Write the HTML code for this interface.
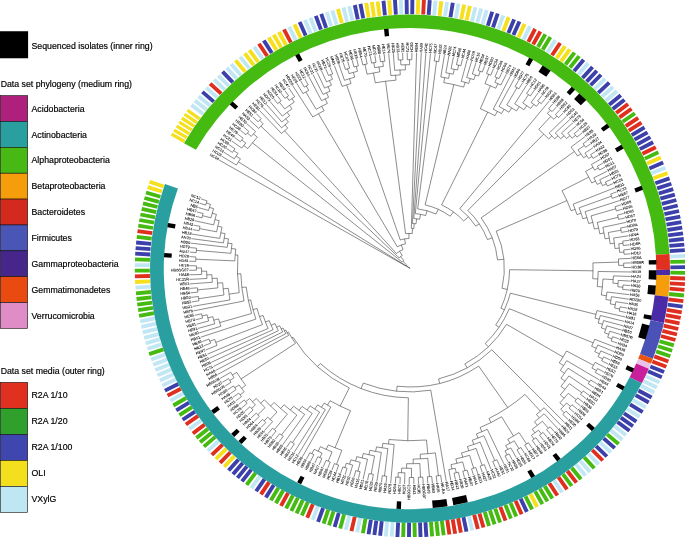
<!DOCTYPE html>
<html><head><meta charset="utf-8"><title>Phylogenetic tree</title>
<style>html,body{margin:0;padding:0;background:#fff}svg{display:block}text{font-family:"Liberation Sans",Arial,Helvetica,sans-serif}</style>
</head><body>
<svg width="685" height="537" viewBox="0 0 685 537">
<rect width="685" height="537" fill="#fff"/>
<g font-size="8.75" fill="#000" stroke="#000" stroke-width="0.18"><rect x="0" y="31.3" width="28" height="26.8" fill="#000"/><text x="31.5" y="48.8">Sequenced isolates (inner ring)</text><text x="0.7" y="87.0">Data set phylogeny (medium ring)</text><rect x="0.3" y="95.60" width="27.4" height="25.87" fill="#ad207c" stroke="#111" stroke-width="0.6"/><text x="31.5" y="111.73">Acidobacteria</text><rect x="0.3" y="121.47" width="27.4" height="25.87" fill="#2a9fa0" stroke="#111" stroke-width="0.6"/><text x="31.5" y="137.60">Actinobacteria</text><rect x="0.3" y="147.34" width="27.4" height="25.87" fill="#48b914" stroke="#111" stroke-width="0.6"/><text x="31.5" y="163.47">Alphaproteobacteria</text><rect x="0.3" y="173.21" width="27.4" height="25.87" fill="#f59d0a" stroke="#111" stroke-width="0.6"/><text x="31.5" y="189.34">Betaproteobacteria</text><rect x="0.3" y="199.08" width="27.4" height="25.87" fill="#d42a1e" stroke="#111" stroke-width="0.6"/><text x="31.5" y="215.21">Bacteroidetes</text><rect x="0.3" y="224.95" width="27.4" height="25.87" fill="#4a56b6" stroke="#111" stroke-width="0.6"/><text x="31.5" y="241.08">Firmicutes</text><rect x="0.3" y="250.82" width="27.4" height="25.87" fill="#46268a" stroke="#111" stroke-width="0.6"/><text x="31.5" y="266.95">Gammaproteobacteria</text><rect x="0.3" y="276.69" width="27.4" height="25.87" fill="#e84a10" stroke="#111" stroke-width="0.6"/><text x="31.5" y="292.82">Gemmatimonadetes</text><rect x="0.3" y="302.56" width="27.4" height="25.87" fill="#e08cc6" stroke="#111" stroke-width="0.6"/><text x="31.5" y="318.69">Verrucomicrobia</text><text x="0.7" y="373.5">Data set media (outer ring)</text><rect x="0.3" y="382.40" width="27.4" height="26.00" fill="#e0301f" stroke="#111" stroke-width="0.6"/><text x="31.5" y="398.10">R2A 1/10</text><rect x="0.3" y="408.40" width="27.4" height="26.00" fill="#2fa02c" stroke="#111" stroke-width="0.6"/><text x="31.5" y="424.10">R2A 1/20</text><rect x="0.3" y="434.40" width="27.4" height="26.00" fill="#3f46ae" stroke="#111" stroke-width="0.6"/><text x="31.5" y="450.10">R2A 1/100</text><rect x="0.3" y="460.40" width="27.4" height="26.00" fill="#f4df1f" stroke="#111" stroke-width="0.6"/><text x="31.5" y="476.10">OLI</text><rect x="0.3" y="486.40" width="27.4" height="26.00" fill="#bfe6f3" stroke="#111" stroke-width="0.6"/><text x="31.5" y="502.10">VXylG</text></g>
<g transform="translate(410.1 268.4) scale(1.0238 1)"><path d="M-161.1 -196.6L-170.5 -208M-152.7 -203.2L-161.5 -215M-148.4 -206.4L-157 -218.3M-130.5 -218.1L-138.1 -230.8M-125.9 -220.8L-133.2 -233.6M-121.2 -223.4L-128.2 -236.4M-106.9 -230.6L-113 -244M-66.7 -245.3L-70.5 -259.5M-40.5 -250.9L-42.9 -265.5M-35.3 -251.7L-37.3 -266.3M-29.9 -252.4L-31.7 -267M-19.3 -253.5L-20.4 -268.1M7.5 -254.1L7.9 -268.8M28.8 -252.6L30.5 -267.2M49.9 -249.2L52.8 -263.7M55.2 -248.1L58.4 -262.5M91 -237.3L96.3 -251.1M105.8 -231.1L111.9 -244.5M143.1 -210.1L151.4 -222.3M147.5 -207.1L156 -219M231.5 -104.9L244.9 -111M237.7 -90.1L251.4 -95.3M117.4 225.4L124.2 238.5M-171.6 187.6L-181.5 198.4M-179.3 180.2L-189.7 190.6M-253.9 12.9L-268.6 13.6M-242.3 -76.9L-256.3 -81.3M-240.6 -81.9L-254.5 -86.7" stroke="#f6df1c" stroke-width="3.80" fill="none"/>
<path d="M-202 -154.4L-213.6 -163.3M-198.7 -158.6L-210.2 -167.8M-195.3 -162.7L-206.6 -172.1M-188.3 -170.8L-199.1 -180.7M-180.9 -178.6L-191.4 -188.9M-177.1 -182.4L-187.3 -192.9M-169.3 -189.6L-179.1 -200.6M-165.2 -193.2L-174.8 -204.3M-157 -200L-166 -211.5M-144 -209.5L-152.4 -221.6M-111.7 -228.3L-118.2 -241.5M-97.1 -234.9L-102.7 -248.5M-92.1 -236.9L-97.4 -250.6M-77 -242.3L-81.4 -256.3M-71.8 -243.8L-76 -257.9M-61.5 -246.6L-65.1 -260.9M-56.3 -247.9L-59.6 -262.2M-8.6 -254.1L-9.1 -268.7M23.5 -253.1L24.8 -267.8M34.1 -251.9L36.1 -266.5M44.7 -250.2L47.3 -264.7M60.4 -246.9L63.9 -261.2M65.6 -245.6L69.4 -259.8M70.7 -244.2L74.8 -258.3M86 -239.2L91 -253M110.7 -228.8L117.1 -242.1M134.1 -215.9L141.9 -228.4M164.4 -193.9L173.9 -205.1M180.1 -179.4L190.5 -189.8M187.5 -171.7L198.3 -181.6M191.1 -167.7L202.1 -177.4M235.7 -95.1L249.4 -100.6M253.9 -11.8L268.6 -12.5M230.2 107.8L243.5 114M227.9 112.6L241.1 119.1M225.5 117.4L238.5 124.1M217.6 131.4L230.2 139M211.9 140.4L224.2 148.5M199.3 157.7L210.9 166.9M196 161.9L207.3 171.3M185.4 173.9L196.1 184M174 185.3L184.1 196M166.1 192.5L175.7 203.6M162 195.9L171.3 207.2M140.5 211.9L148.6 224.1M57.4 247.6L60.7 262M-17.1 253.6L-18 268.3M-22.4 253.2L-23.7 267.9M-48.9 249.5L-51.7 263.9M-59.3 247.2L-62.8 261.5M-90 237.7L-95.2 251.5M-146.6 207.7L-155.1 219.7M-186.8 172.5L-197.6 182.4M-203.8 151.9L-215.6 160.7M-221.4 125L-234.2 132.2M-228.8 110.8L-242 117.2M-231.1 105.9L-244.4 112M-233.3 101L-246.8 106.9M-235.3 96.1L-248.9 101.7M-237.3 91.1L-251 96.4M-239.2 86.1L-253 91.1M-242.6 76L-256.6 80.3M-244.1 70.8L-258.3 74.9M-245.6 65.7L-259.8 69.5M-246.9 60.5L-261.2 64M-248.1 55.3L-262.5 58.5M-249.2 50L-263.6 52.9M-253.5 18.2L-268.2 19.3M-254.2 -3.2L-268.9 -3.3" stroke="#c2e7f4" stroke-width="3.80" fill="none"/>
<path d="M-191.8 -166.8L-202.9 -176.5M-173.2 -186L-183.2 -196.8M-135.1 -215.3L-142.9 -227.8M-102 -232.8L-107.9 -246.3M-87.1 -238.8L-92.1 -252.6M-82 -240.6L-86.8 -254.5M-51.1 -249L-54 -263.4M-45.8 -250L-48.5 -264.5M-24.6 -253L-26 -267.6M-13.9 -253.8L-14.8 -268.5M-3.2 -254.2L-3.4 -268.9M2.1 -254.2L2.2 -268.9M18.1 -253.6L19.2 -268.2M39.4 -251.1L41.7 -265.6M75.9 -242.6L80.2 -256.6M81 -241L85.6 -254.9M96 -235.4L101.6 -249M100.9 -233.3L106.8 -246.8M160.2 -197.3L169.5 -208.7M168.4 -190.4L178.2 -201.4M172.4 -186.8L182.4 -197.6M176.3 -183.1L186.5 -193.7M183.8 -175.6L194.5 -185.7M194.5 -163.6L205.8 -173.1M197.9 -159.5L209.4 -168.7M216.5 -133.3L229 -141M219.2 -128.7L231.9 -136.1M221.9 -124L234.7 -131.2M224.4 -119.3L237.4 -126.2M233.7 -100L247.2 -105.8M239.5 -85.1L253.4 -90M241.3 -80L255.2 -84.6M242.9 -74.9L257 -79.3M244.4 -69.8L258.6 -73.8M245.8 -64.6L260.1 -68.4M247.2 -59.4L261.4 -62.9M248.4 -54.2L262.7 -57.4M249.4 -49L263.9 -51.8M250.4 -43.7L264.9 -46.2M251.3 -38.4L265.8 -40.7M252 -33.1L266.6 -35.1M252.7 -27.8L267.3 -29.4M253.2 -22.5L267.8 -23.8M253.6 -17.2L268.3 -18.2M254.2 -1.1L268.9 -1.2M251.6 36.2L266.2 38.3M234.6 98L248.1 103.6M232.4 102.9L245.9 108.8M223 122.1L235.9 129.1M220.3 126.7L233.1 134.1M214.8 135.9L227.2 143.8M208.9 144.8L221 153.2M205.8 149.2L217.7 157.8M202.6 153.5L214.3 162.4M189 170L199.9 179.8M181.7 177.8L192.2 188.1M107.9 230.2L114.1 243.5M52.1 248.8L55.1 263.2M15 253.8L15.9 268.4M9.7 254L10.2 268.7M-1 254.2L-1.1 268.9M-11.7 253.9L-12.4 268.6M-27.7 252.7L-29.3 267.3M-33 252L-34.9 266.6M-38.3 251.3L-40.6 265.8M-69.7 244.5L-73.7 258.6M-85 239.6L-89.9 253.4M-133.2 216.5L-140.9 229M-142.2 210.7L-150.4 222.9M-155.2 201.3L-164.2 213M-159.4 198L-168.6 209.5M-163.5 194.6L-173 205.9M-167.6 191.1L-177.3 202.2M-210.1 143.2L-222.2 151.4M-215.9 134.2L-228.4 141.9M-226.4 115.6L-239.5 122.2M-253.8 -13.9L-268.5 -14.7M-253.5 -19.2L-268.1 -20.3M-253 -24.5L-267.6 -25.9" stroke="#3c40aa" stroke-width="3.80" fill="none"/>
<path d="M-184.6 -174.7L-195.3 -184.8M-139.6 -212.4L-147.7 -224.7M-116.5 -225.9L-123.2 -239M12.8 -253.9L13.5 -268.6M115.5 -226.5L122.1 -239.6M120.2 -224L127.2 -236.9M138.6 -213.1L146.6 -225.4M201.3 -155.3L212.9 -164.3M204.5 -151L216.3 -159.7M210.7 -142.3L222.8 -150.5M213.6 -137.8L226 -145.8M226.9 -114.6L240 -121.2M254 9.6L268.7 10.1M253.8 14.9L268.4 15.8M253.4 20.3L268 21.4M252.3 30.9L266.9 32.7M250.8 41.5L265.3 43.9M249.9 46.8L264.3 49.5M248.8 52L263.2 55M247.7 57.3L262 60.6M246.4 62.5L260.7 66.1M245 67.6L259.2 71.6M238.5 88L252.3 93.1M236.6 93L250.3 98.4M177.9 181.6L188.2 192.1M153.6 202.6L162.5 214.3M144.9 208.8L153.3 220.9M136 214.8L143.9 227.2M103 232.4L108.9 245.8M88.1 238.4L93.2 252.2M67.7 245L71.7 259.2M62.6 246.4L66.2 260.6M46.9 249.8L49.6 264.3M41.6 250.8L44 265.3M36.3 251.6L38.4 266.1M-54.1 248.4L-57.3 262.7M-95 235.8L-100.5 249.4M-119.2 224.5L-126.1 237.5M-137.7 213.7L-145.7 226M-175.5 183.9L-185.6 194.5M-183.1 176.3L-193.7 186.5M-200.6 156.1L-212.2 165.2M-207 147.5L-219 156.1M-223.9 120.3L-236.9 127.2M-254.1 7.6L-268.8 8M-251.8 -35.2L-266.3 -37.2" stroke="#df2f1e" stroke-width="3.80" fill="none"/>
<path d="M124.9 -221.4L132.1 -234.2M129.5 -218.7L137 -231.4M151.8 -203.9L160.6 -215.7M156.1 -200.7L165.1 -212.3M207.6 -146.7L219.6 -155.1M229.3 -109.8L242.5 -116.1M254.1 -6.5L268.8 -6.8M254.2 4.2L268.9 4.5M252.9 25.6L267.5 27.1M243.6 72.8L257.6 77M242 77.9L256 82.4M240.3 83L254.2 87.8M192.5 166L203.7 175.6M170.1 188.9L179.9 199.8M157.8 199.3L166.9 210.8M149.3 205.7L157.9 217.6M131.4 217.6L139 230.2M126.8 220.3L134.2 233M122.2 222.9L129.2 235.8M112.7 227.9L119.2 241M98.1 234.5L103.7 248.1M93.1 236.5L98.5 250.2M83.1 240.2L87.9 254.1M78 241.9L82.5 255.9M72.9 243.5L77.1 257.6M31 252.3L32.8 266.9M25.7 252.9L27.2 267.5M20.4 253.4L21.5 268M4.3 254.2L4.6 268.9M-6.4 254.1L-6.7 268.8M-43.6 250.4L-46.1 264.9M-64.5 245.9L-68.3 260.1M-74.8 242.9L-79.2 257M-79.9 241.3L-84.5 255.3M-99.9 233.7L-105.7 247.2M-104.8 231.6L-110.9 245M-109.7 229.3L-116 242.6M-114.5 227L-121.1 240.1M-123.9 221.9L-131.1 234.8M-128.6 219.3L-136 232M-150.9 204.5L-159.7 216.4M-190.3 168.5L-201.4 178.2M-193.8 164.4L-205.1 173.9M-197.3 160.3L-208.7 169.6M-213 138.7L-225.3 146.7M-218.7 129.6L-231.3 137.1M-240.9 81L-254.9 85.7M-250.2 44.8L-264.7 47.4M-251.1 39.5L-265.6 41.8M-251.9 34.2L-266.5 36.2M-252.6 28.9L-267.2 30.6M-253.1 23.6L-267.7 24.9M-254.2 2.2L-268.9 2.3M-254.1 -8.5L-268.7 -9M-252.4 -29.8L-267 -31.6M-251 -40.4L-265.5 -42.8M-250.1 -45.7L-264.5 -48.4M-249 -51L-263.4 -53.9M-247.9 -56.2L-262.2 -59.5M-246.7 -61.4L-260.9 -65M-245.3 -66.6L-259.5 -70.4M-243.9 -71.7L-258 -75.9" stroke="#45ba10" stroke-width="3.80" fill="none"/>
<path d="M-220.3 -126.9L-233 -134.2M-218 -130.8L-230.6 -138.3M-215.6 -134.6L-228.1 -142.4M-213.2 -138.4L-225.6 -146.4M-210.8 -142.1L-223 -150.3M-208.2 -145.8L-220.3 -154.2M-205.6 -149.5L-217.5 -158.1" stroke="#f6df1c" stroke-width="3.19" fill="none"/>
<path d="M-215 -121.9A247.1 247.1 0 0 1 246.7 -14.1" stroke="#45ba10" stroke-width="13.40" fill="none"/>
<path d="M246.7 -14.1A247.1 247.1 0 0 1 247.1 1.5" stroke="#e0301f" stroke-width="13.40" fill="none"/>
<path d="M247.1 1.5A247.1 247.1 0 0 1 247.1 6.7" stroke="#4a2aa6" stroke-width="13.40" fill="none"/>
<path d="M247.1 6.7A247.1 247.1 0 0 1 245.6 27.5" stroke="#f59d0a" stroke-width="13.40" fill="none"/>
<path d="M245.6 27.5A247.1 247.1 0 0 1 241.4 53.1" stroke="#4a2aa6" stroke-width="13.40" fill="none"/>
<path d="M241.4 53.1A247.1 247.1 0 0 1 230.9 88" stroke="#4a52b8" stroke-width="13.40" fill="none"/>
<path d="M230.9 88A247.1 247.1 0 0 1 229 92.9" stroke="#ea5410" stroke-width="13.40" fill="none"/>
<path d="M229 92.9A247.1 247.1 0 0 1 227 97.7" stroke="#e9c3ea" stroke-width="13.40" fill="none"/>
<path d="M227 97.7A247.1 247.1 0 0 1 220.4 111.8" stroke="#c81f9c" stroke-width="13.40" fill="none"/>
<path d="M220.4 111.8A247.1 247.1 0 0 1 -233.1 -82.1" stroke="#2a9fa0" stroke-width="13.40" fill="none"/>
<path d="M-173.5 -161.3A236.9 236.9 0 0 1 -170.6 -164.4M-110.5 -209.6A236.9 236.9 0 0 1 -106.7 -211.6M-25.1 -235.6A236.9 236.9 0 0 1 -20.8 -236M114.5 -207.4A236.9 236.9 0 0 1 118.3 -205.3M127.4 -199.8A236.9 236.9 0 0 1 135.1 -194.6M155.4 -178.9A236.9 236.9 0 0 1 158.6 -176M162.7 -172.2A236.9 236.9 0 0 1 169.4 -165.7M189.3 -142.5A236.9 236.9 0 0 1 191.9 -139M203.2 -121.8A236.9 236.9 0 0 1 205.4 -118.1M222.5 -81.3A236.9 236.9 0 0 1 224 -77.3M236.8 -8.2A236.9 236.9 0 0 1 236.9 -3.9M236.9 1.8A236.9 236.9 0 0 1 236.7 11.1M236.3 16.8A236.9 236.9 0 0 1 235.5 26M232.3 46.4A236.9 236.9 0 0 1 231.5 50.6M230.2 56.1A236.9 236.9 0 0 1 226.4 69.9M215.5 98.5A236.9 236.9 0 0 1 213.7 102.4M206.4 116.3A236.9 236.9 0 0 1 204.3 120M177.6 156.8A236.9 236.9 0 0 1 174.7 160M144.8 187.5A236.9 236.9 0 0 1 141.4 190.1M120.1 204.2A236.9 236.9 0 0 1 116.4 206.4M55.5 230.3A236.9 236.9 0 0 1 41.6 233.2M36 234.2A236.9 236.9 0 0 1 21.8 235.9M-8.8 236.8A236.9 236.9 0 0 1 -13.1 236.6M-104.8 212.5A236.9 236.9 0 0 1 -108.6 210.6M-162 172.9A236.9 236.9 0 0 1 -165.1 169.9M-169.1 165.9A236.9 236.9 0 0 1 -172.1 162.8M-188.7 143.3A236.9 236.9 0 0 1 -191.3 139.8M-236.7 -10.8A236.9 236.9 0 0 1 -236.4 -15.1M-233.4 -40.5A236.9 236.9 0 0 1 -232.7 -44.7" stroke="#000" stroke-width="7.45" fill="none"/>
<path d="M-173.5 -116A208.7 208.7 0 0 1 -171 -119.6M-173.5 -116L-179.4 -120M-171 -119.6L-176.8 -123.7M-171.7 -109.6A203.7 203.7 0 0 1 -168.1 -115M-171.7 -109.6L-181.9 -116.2M-168.1 -115L-172.3 -117.8M-169.7 -103.4A198.7 198.7 0 0 1 -165.7 -109.6M-169.7 -103.4L-184.3 -112.3M-165.7 -109.6L-169.9 -112.3M-165.8 -126.7A208.7 208.7 0 0 1 -163.1 -130.2M-165.8 -126.7L-171.5 -131M-163.1 -130.2L-168.7 -134.6M-164.4 -120.3A203.7 203.7 0 0 1 -160.5 -125.4M-164.4 -120.3L-174.2 -127.4M-160.5 -125.4L-164.5 -128.5M-160.3 -133.6A208.7 208.7 0 0 1 -157.5 -136.9M-160.3 -133.6L-165.8 -138.1M-157.5 -136.9L-162.8 -141.6M-155.1 -132A203.7 203.7 0 0 1 -150.9 -136.9M-155.1 -132L-158.9 -135.3M-150.9 -136.9L-159.8 -145M-158.5 -119.8A198.7 198.7 0 0 1 -149.2 -131.2M-158.5 -119.8L-162.5 -122.8M-149.2 -131.2L-153 -134.5M-148.5 -146.6A208.7 208.7 0 0 1 -145.4 -149.7M-148.5 -146.6L-153.6 -151.6M-145.4 -149.7L-150.3 -154.8M-147.9 -140A203.7 203.7 0 0 1 -143.4 -144.6M-147.9 -140L-156.7 -148.3M-143.4 -144.6L-147 -148.2M-129.4 -164.8A209.5 209.5 0 0 1 -125.9 -167.5M-129.4 -164.8L-133.2 -169.7M-125.9 -167.5L-129.6 -172.5M-122.3 -170.1A209.5 209.5 0 0 1 -118.7 -172.6M-122.3 -170.1L-126 -175.2M-118.7 -172.6L-122.3 -177.8M-118.1 -167.9A205.3 205.3 0 0 1 -112.7 -171.6M-118.1 -167.9L-120.5 -171.4M-112.7 -171.6L-118.5 -180.4M-122.5 -159.5A201.1 201.1 0 0 1 -113.1 -166.3M-122.5 -159.5L-127.6 -166.1M-113.1 -166.3L-115.4 -169.8M-124.8 -152.3A196.9 196.9 0 0 1 -115.4 -159.6M-124.8 -152.3L-136.8 -166.9M-115.4 -159.6L-117.8 -163M-125.3 -146.4A192.7 192.7 0 0 1 -117.6 -152.7M-125.3 -146.4L-140.3 -164M-117.6 -152.7L-120.1 -156M-125.5 -140.6A188.5 188.5 0 0 1 -118.8 -146.3M-125.5 -140.6L-143.7 -161M-118.8 -146.3L-121.5 -149.6M-125.6 -134.9A184.3 184.3 0 0 1 -119.5 -140.3M-125.6 -134.9L-147.1 -157.9M-119.5 -140.3L-122.2 -143.5M-103.4 -181.3A208.7 208.7 0 0 1 -99.5 -183.4M-103.4 -181.3L-106.9 -187.5M-99.5 -183.4L-102.9 -189.7M-104.6 -174.8A203.7 203.7 0 0 1 -99 -178M-104.6 -174.8L-110.8 -185.2M-99 -178L-101.4 -182.4M-79.7 -192.9A208.7 208.7 0 0 1 -75.6 -194.5M-79.7 -192.9L-82.4 -199.4M-75.6 -194.5L-78.2 -201.1M-81.7 -186.6A203.7 203.7 0 0 1 -75.8 -189.1M-81.7 -186.6L-86.6 -197.7M-75.8 -189.1L-77.7 -193.7M-83.5 -180.3A198.7 198.7 0 0 1 -76.8 -183.2M-83.5 -180.3L-90.7 -195.8M-76.8 -183.2L-78.8 -187.9M-85.1 -174A193.7 193.7 0 0 1 -78.2 -177.2M-85.1 -174L-94.8 -193.8M-78.2 -177.2L-80.2 -181.8M-86.5 -167.7A188.7 188.7 0 0 1 -79.6 -171.1M-86.5 -167.7L-98.9 -191.8M-79.6 -171.1L-81.7 -175.6M-91.8 -159.1A183.7 183.7 0 0 1 -80.8 -165M-91.8 -159.1L-101.8 -176.4M-80.8 -165L-83 -169.5M-95 -151.4A178.7 178.7 0 0 1 -84 -157.7M-95 -151.4L-114.7 -182.8M-84 -157.7L-86.4 -162.1M-63.2 -198.9A208.7 208.7 0 0 1 -59 -200.2M-63.2 -198.9L-65.3 -205.7M-59 -200.2L-61 -207M-54.8 -201.4A208.7 208.7 0 0 1 -50.5 -202.5M-54.8 -201.4L-56.6 -208.2M-50.5 -202.5L-52.2 -209.4M-59.6 -194.8A203.7 203.7 0 0 1 -51.4 -197.1M-59.6 -194.8L-61.1 -199.6M-51.4 -197.1L-52.6 -202M-64.1 -188.1A198.7 198.7 0 0 1 -54.1 -191.2M-64.1 -188.1L-69.6 -204.3M-54.1 -191.2L-55.5 -196M-66.4 -182A193.7 193.7 0 0 1 -57.7 -184.9M-66.4 -182L-73.9 -202.7M-57.7 -184.9L-59.2 -189.7M-46.2 -203.5A208.7 208.7 0 0 1 -41.9 -204.4M-46.2 -203.5L-47.8 -210.4M-41.9 -204.4L-43.4 -211.4M-37.6 -205.3A208.7 208.7 0 0 1 -33.3 -206M-37.6 -205.3L-38.9 -212.3M-33.3 -206L-34.4 -213M-28.9 -206.7A208.7 208.7 0 0 1 -24.6 -207.2M-28.9 -206.7L-29.9 -213.7M-24.6 -207.2L-25.4 -214.3M-34.6 -200.7A203.7 203.7 0 0 1 -26.1 -202M-34.6 -200.7L-35.5 -205.7M-26.1 -202L-26.8 -207M-42 -194.2A198.7 198.7 0 0 1 -29.6 -196.5M-42 -194.2L-44.1 -204M-29.6 -196.5L-30.4 -201.4M-11.5 -208.4A208.7 208.7 0 0 1 -7.1 -208.6M-11.5 -208.4L-11.8 -215.5M-7.1 -208.6L-7.3 -215.7M-2.7 -208.7A208.7 208.7 0 0 1 1.7 -208.7M-2.7 -208.7L-2.8 -215.8M1.7 -208.7L1.8 -215.8M-9 -203.5A203.7 203.7 0 0 1 -0.5 -203.7M-9 -203.5L-9.3 -208.5M-0.5 -203.7L-0.5 -208.7M-15.1 -198.1A198.7 198.7 0 0 1 -4.6 -198.6M-15.1 -198.1L-16.4 -215.2M-4.6 -198.6L-4.7 -203.6M-18.8 -192.8A193.7 193.7 0 0 1 -9.6 -193.5M-18.8 -192.8L-20.9 -214.8M-9.6 -193.5L-9.9 -198.5M-34 -185.6A188.7 188.7 0 0 1 -13.8 -188.2M-34 -185.6L-35.8 -195.4M-13.8 -188.2L-14.2 -193.2M23.6 -207.4A208.7 208.7 0 0 1 28 -206.8M23.6 -207.4L24.5 -214.4M28 -206.8L29 -213.8M45.3 -203.7A208.7 208.7 0 0 1 49.6 -202.7M45.3 -203.7L46.8 -210.7M49.6 -202.7L51.3 -209.6M40 -199.7A203.7 203.7 0 0 1 46.3 -198.4M40 -199.7L42.4 -211.6M46.3 -198.4L47.4 -203.2M34.9 -195.6A198.7 198.7 0 0 1 42.1 -194.2M34.9 -195.6L37.9 -212.4M42.1 -194.2L43.2 -199.1M30 -191.4A193.7 193.7 0 0 1 37.6 -190M30 -191.4L33.5 -213.2M37.6 -190L38.5 -194.9M66.5 -197.8A208.7 208.7 0 0 1 70.6 -196.4M66.5 -197.8L68.7 -204.6M70.6 -196.4L73 -203.1M60.8 -194.4A203.7 203.7 0 0 1 66.9 -192.4M60.8 -194.4L64.4 -206M66.9 -192.4L68.5 -197.1M55.3 -190.9A198.7 198.7 0 0 1 62.3 -188.7M55.3 -190.9L60.1 -207.3M62.3 -188.7L63.9 -193.4M50 -187.1A193.7 193.7 0 0 1 57.3 -185M50 -187.1L55.7 -208.5M57.3 -185L58.8 -189.8M32.9 -185.8A188.7 188.7 0 0 1 52.3 -181.3M32.9 -185.8L33.8 -190.7M52.3 -181.3L53.7 -186.1M74.7 -194.9A208.7 208.7 0 0 1 78.8 -193.2M74.7 -194.9L77.3 -201.5M78.8 -193.2L81.5 -199.8M82.9 -191.5A208.7 208.7 0 0 1 86.9 -189.8M82.9 -191.5L85.7 -198.1M86.9 -189.8L89.8 -196.2M82.8 -186.1A203.7 203.7 0 0 1 88.7 -183.4M82.8 -186.1L84.9 -190.7M88.7 -183.4L94 -194.3M73.1 -184.8A198.7 198.7 0 0 1 83.7 -180.2M73.1 -184.8L76.8 -194.1M83.7 -180.2L85.8 -184.8M102.5 -181.8A208.7 208.7 0 0 1 106.3 -179.6M102.5 -181.8L106 -188M106.3 -179.6L110 -185.7M113.8 -174.9A208.7 208.7 0 0 1 117.5 -172.5M113.8 -174.9L117.7 -180.9M117.5 -172.5L121.5 -178.4M124.6 -167.4A208.7 208.7 0 0 1 128.1 -164.7M124.6 -167.4L128.9 -173.1M128.1 -164.7L132.5 -170.3M118.2 -165.9A203.7 203.7 0 0 1 123.4 -162.1M118.2 -165.9L125.2 -175.8M123.4 -162.1L126.4 -166.1M110.1 -165.4A198.7 198.7 0 0 1 117.8 -160M110.1 -165.4L115.6 -173.7M117.8 -160L120.8 -164M102.2 -164.6A193.7 193.7 0 0 1 111.1 -158.7M102.2 -164.6L113.8 -183.3M111.1 -158.7L114 -162.8M94.4 -163.4A188.7 188.7 0 0 1 103.9 -157.5M94.4 -163.4L104.4 -180.7M103.9 -157.5L106.7 -161.7M86.9 -161.9A183.7 183.7 0 0 1 96.6 -156.2M86.9 -161.9L102 -190.1M96.6 -156.2L99.2 -160.5M81.2 -159.2A178.7 178.7 0 0 1 89.3 -154.8M81.2 -159.2L98 -192.3M89.3 -154.8L91.8 -159.1M68.6 -159.6A173.7 173.7 0 0 1 82.9 -152.7M68.6 -159.6L78.4 -182.6M82.9 -152.7L85.3 -157.1M135.3 -159.7A209.3 209.3 0 0 1 138.7 -156.8M135.3 -159.7L139.5 -164.6M138.7 -156.8L143 -161.6M141.9 -153.8A209.3 209.3 0 0 1 145.1 -150.8M141.9 -153.8L146.3 -158.6M145.1 -150.8L149.6 -155.5M134.1 -154.9A204.9 204.9 0 0 1 140.5 -149.1M134.1 -154.9L137 -158.2M140.5 -149.1L143.5 -152.3M160.2 -134.7A209.3 209.3 0 0 1 163 -131.3M160.2 -134.7L165.2 -138.9M163 -131.3L168 -135.4M154 -135.2A204.9 204.9 0 0 1 158.2 -130.2M154 -135.2L162.2 -142.3M158.2 -130.2L161.6 -133M147.9 -135.4A200.5 200.5 0 0 1 152.8 -129.9M147.9 -135.4L159.2 -145.7M152.8 -129.9L156.1 -132.7M141.8 -135.4A196.1 196.1 0 0 1 147.1 -129.7M141.8 -135.4L156.1 -149M147.1 -129.7L150.4 -132.6M135.8 -135.3A191.7 191.7 0 0 1 141.2 -129.6M135.8 -135.3L152.9 -152.3M141.2 -129.6L144.5 -132.6M125.6 -139A187.3 187.3 0 0 1 135.4 -129.4M125.6 -139L137.4 -152M135.4 -129.4L138.5 -132.5M168.9 -124.7A209.9 209.9 0 0 1 171.4 -121.1M168.9 -124.7L173.6 -128.2M171.4 -121.1L176.3 -124.5M176.4 -113.8A209.9 209.9 0 0 1 178.7 -110M176.4 -113.8L181.3 -117M178.7 -110L183.8 -113.1M170.8 -115.3A206.1 206.1 0 0 1 174.4 -109.9M170.8 -115.3L178.8 -120.8M174.4 -109.9L177.6 -111.9M164 -118.5A202.3 202.3 0 0 1 169.4 -110.6M164 -118.5L170.2 -122.9M169.4 -110.6L172.6 -112.6M157.2 -121.3A198.5 198.5 0 0 1 163.6 -112.4M157.2 -121.3L170.9 -131.8M163.6 -112.4L166.8 -114.5M182.9 -102.2A209.5 209.5 0 0 1 185 -98.4M182.9 -102.2L188.4 -105.3M185 -98.4L190.5 -101.3M177.1 -103.9A205.3 205.3 0 0 1 180.2 -98.3M177.1 -103.9L186.1 -109.2M180.2 -98.3L183.9 -100.3M190.8 -86.5A209.5 209.5 0 0 1 192.6 -82.4M190.8 -86.5L196.6 -89.1M192.6 -82.4L198.4 -84.9M185.2 -88.7A205.3 205.3 0 0 1 187.9 -82.8M185.2 -88.7L194.6 -93.2M187.9 -82.8L191.7 -84.5M179.5 -90.6A201.1 201.1 0 0 1 182.7 -84M179.5 -90.6L192.6 -97.3M182.7 -84L186.5 -85.7M171.4 -97A196.9 196.9 0 0 1 177.4 -85.5M171.4 -97L178.7 -101.1M177.4 -85.5L181.2 -87.3M195.9 -74.3A209.5 209.5 0 0 1 197.4 -70.1M195.9 -74.3L201.8 -76.5M197.4 -70.1L203.4 -72.2M200.2 -61.7A209.5 209.5 0 0 1 201.4 -57.5M200.2 -61.7L206.2 -63.6M201.4 -57.5L207.5 -59.2M202.6 -53.3A209.5 209.5 0 0 1 203.7 -49M202.6 -53.3L208.7 -54.9M203.7 -49L209.8 -50.5M205.6 -40.4A209.5 209.5 0 0 1 206.4 -36M205.6 -40.4L211.8 -41.6M206.4 -36L212.6 -37.1M207.7 -27.3A209.5 209.5 0 0 1 208.2 -22.9M207.7 -27.3L214 -28.1M208.2 -22.9L214.5 -23.6M208.7 -18.5A209.5 209.5 0 0 1 209 -14.1M208.7 -18.5L215 -19.1M209 -14.1L215.3 -14.6M203.8 -24.6A205.3 205.3 0 0 1 204.7 -16M203.8 -24.6L208 -25.1M204.7 -16L208.9 -16.3M198.8 -30.4A201.1 201.1 0 0 1 200.1 -19.9M198.8 -30.4L213.3 -32.6M200.1 -19.9L204.3 -20.3M193.6 -35.9A196.9 196.9 0 0 1 195.4 -24.6M193.6 -35.9L206 -38.2M195.4 -24.6L199.5 -25.2M188.3 -41.1A192.7 192.7 0 0 1 190.4 -29.6M188.3 -41.1L210.8 -46M190.4 -29.6L194.6 -30.3M182.8 -46A188.5 188.5 0 0 1 185.3 -34.6M182.8 -46L203.2 -51.1M185.3 -34.6L189.4 -35.4M176.7 -52.5A184.3 184.3 0 0 1 180 -39.4M176.7 -52.5L200.8 -59.6M180 -39.4L184.1 -40.3M170.9 -56.7A180.1 180.1 0 0 1 174.4 -44.9M170.9 -56.7L204.8 -67.9M174.4 -44.9L178.5 -46M165.1 -60.6A175.9 175.9 0 0 1 168.7 -49.7M165.1 -60.6L196.7 -72.2M168.7 -49.7L172.8 -50.8M159.2 -64.2A171.7 171.7 0 0 1 163 -53.8M159.2 -64.2L200.1 -80.7M163 -53.8L167 -55.2M148.4 -77.7A167.5 167.5 0 0 1 157.3 -57.6M148.4 -77.7L174.5 -91.3M157.3 -57.6L161.2 -59.1M208.6 -5.3A208.7 208.7 0 0 1 208.7 -0.9M208.6 -5.3L215.7 -5.5M208.7 -0.9L215.8 -0.9M203.5 -9.5A203.7 203.7 0 0 1 203.7 -3M203.5 -9.5L215.6 -10M203.7 -3L208.7 -3.1M208 16.6A208.7 208.7 0 0 1 207.6 21M208 16.6L215.1 17.2M207.6 21L214.7 21.7M203.3 12A203.7 203.7 0 0 1 202.9 18.4M203.3 12L215.4 12.7M202.9 18.4L207.8 18.8M198.6 7.5A198.7 198.7 0 0 1 198.1 14.8M198.6 7.5L215.6 8.1M198.1 14.8L203.1 15.2M205.1 38.4A208.7 208.7 0 0 1 204.3 42.7M205.1 38.4L212.1 39.7M204.3 42.7L211.2 44.2M201 33.3A203.7 203.7 0 0 1 199.8 39.6M201 33.3L212.9 35.2M199.8 39.6L204.7 40.6M196.7 28.3A198.7 198.7 0 0 1 195.5 35.5M196.7 28.3L213.6 30.8M195.5 35.5L200.4 36.4M192.3 23.6A193.7 193.7 0 0 1 191.2 31.1M192.3 23.6L214.2 26.3M191.2 31.1L196.1 31.9M188.4 10.6A188.7 188.7 0 0 1 186.8 26.6M188.4 10.6L198.4 11.2M186.8 26.6L191.8 27.4M183.7 3.1A183.7 183.7 0 0 1 182.8 18.1M183.7 3.1L215.8 3.6M182.8 18.1L187.8 18.6M178.6 -5.5A178.7 178.7 0 0 1 178.4 10.3M178.6 -5.5L203.6 -6.3M178.4 10.3L183.4 10.6M197.8 68.3A209.3 209.3 0 0 1 196.4 72.5M197.8 68.3L204 70.4M196.4 72.5L202.5 74.7M195 62.8A204.9 204.9 0 0 1 193 68.9M195 62.8L205.4 66.1M193 68.9L197.1 70.4M192.1 57.4A200.5 200.5 0 0 1 189.9 64.4M192.1 57.4L206.8 61.8M189.9 64.4L194 65.9M189 52.2A196.1 196.1 0 0 1 186.8 59.6M189 52.2L208 57.4M186.8 59.6L191 60.9M185.8 47.1A191.7 191.7 0 0 1 183.7 54.6M185.8 47.1L209.2 53M183.7 54.6L188 55.9M182.5 42.2A187.3 187.3 0 0 1 180.6 49.7M182.5 42.2L210.3 48.6M180.6 49.7L184.8 50.9M189 88.5A208.7 208.7 0 0 1 187.1 92.4M189 88.5L195.4 91.5M187.1 92.4L193.5 95.6M186.3 82.5A203.7 203.7 0 0 1 183.6 88.3M186.3 82.5L197.3 87.3M183.6 88.3L188.1 90.5M183.3 76.6A198.7 198.7 0 0 1 180.4 83.3M183.3 76.6L199.1 83.2M180.4 83.3L184.9 85.4M180.3 70.9A193.7 193.7 0 0 1 177.3 77.9M180.3 70.9L200.8 79M177.3 77.9L181.9 79.9M183.1 100.2A208.7 208.7 0 0 1 180.9 104.1M183.1 100.2L189.3 103.6M180.9 104.1L187.1 107.6M180.7 94A203.7 203.7 0 0 1 177.6 99.7M180.7 94L191.4 99.6M177.6 99.7L182 102.2M176.4 111.6A208.7 208.7 0 0 1 174 115.3M176.4 111.6L182.4 115.4M174 115.3L179.9 119.2M169 122.5A208.7 208.7 0 0 1 166.4 126M169 122.5L174.7 126.7M166.4 126L172 130.3M163.7 129.5A208.7 208.7 0 0 1 160.9 132.9M163.7 129.5L169.2 133.9M160.9 132.9L166.4 137.4M158.1 136.3A208.7 208.7 0 0 1 155.2 139.6M158.1 136.3L163.4 140.9M155.2 139.6L160.4 144.3M152.2 142.8A208.7 208.7 0 0 1 149.1 146M152.2 142.8L157.4 147.7M149.1 146L154.2 150.9M152.9 134.6A203.7 203.7 0 0 1 147.1 140.9M152.9 134.6L156.6 137.9M147.1 140.9L150.7 144.4M154.5 124.9A198.7 198.7 0 0 1 146.3 134.4M154.5 124.9L162.3 131.2M146.3 134.4L150 137.8M155.6 115.3A193.7 193.7 0 0 1 146.7 126.5M155.6 115.3L167.7 124.3M146.7 126.5L150.5 129.7M155.1 107.5A188.7 188.7 0 0 1 147.4 117.9M155.1 107.5L177.3 123M147.4 117.9L151.3 121M154.2 99.8A183.7 183.7 0 0 1 147.3 109.8M154.2 99.8L175.2 113.4M147.3 109.8L151.3 112.8M153 92.3A178.7 178.7 0 0 1 146.7 102M153 92.3L184.8 111.5M146.7 102L150.8 104.9M152.8 82.6A173.7 173.7 0 0 1 145.7 94.5M152.8 82.6L179.2 96.9M145.7 94.5L149.9 97.2M136.7 158.4A209.2 209.2 0 0 1 133.3 161.2M136.7 158.4L141 163.4M133.3 161.2L137.5 166.3M129.9 164A209.2 209.2 0 0 1 126.4 166.7M129.9 164L134 169.2M126.4 166.7L130.4 172M122.9 169.3A209.2 209.2 0 0 1 119.3 171.9M122.9 169.3L126.7 174.7M119.3 171.9L123 177.3M125.4 161.8A204.7 204.7 0 0 1 118.5 166.9M125.4 161.8L128.1 165.4M118.5 166.9L121.1 170.6M129.2 152.9A200.2 200.2 0 0 1 119.3 160.8M129.2 152.9L135 159.8M119.3 160.8L121.9 164.4M130.9 145.4A195.7 195.7 0 0 1 121.5 153.4M130.9 145.4L144.4 160.4M121.5 153.4L124.3 156.9M130.9 139.4A191.2 191.2 0 0 1 123.4 146.1M130.9 139.4L147.7 157.3M123.4 146.1L126.3 149.5M115.6 174.3A209.2 209.2 0 0 1 111.9 176.7M115.6 174.3L119.3 179.8M111.9 176.7L115.5 182.3M108.2 179.1A209.2 209.2 0 0 1 104.4 181.3M108.2 179.1L111.6 184.7M104.4 181.3L107.7 187M96.7 185.5A209.2 209.2 0 0 1 92.7 187.5M96.7 185.5L99.7 191.4M92.7 187.5L95.7 193.4M98.4 179.5A204.7 204.7 0 0 1 92.7 182.5M98.4 179.5L103.7 189.2M92.7 182.5L94.7 186.5M101.7 172.4A200.2 200.2 0 0 1 93.4 177.1M101.7 172.4L106.3 180.2M93.4 177.1L95.5 181M106.4 164.2A195.7 195.7 0 0 1 95.4 170.9M106.4 164.2L113.8 175.6M95.4 170.9L97.6 174.8M84.8 191.3A209.2 209.2 0 0 1 80.7 193M84.8 191.3L87.4 197.3M80.7 193L83.3 199.1M72.5 196.2A209.2 209.2 0 0 1 68.4 197.7M72.5 196.2L74.8 202.4M68.4 197.7L70.5 204M64.2 199.1A209.2 209.2 0 0 1 60 200.4M64.2 199.1L66.2 205.4M60 200.4L61.9 206.7M55.7 201.6A209.2 209.2 0 0 1 51.5 202.8M55.7 201.6L57.5 208M51.5 202.8L53.1 209.2M47.2 203.8A209.2 209.2 0 0 1 42.9 204.8M47.2 203.8L48.7 210.2M42.9 204.8L44.3 211.2M44.1 199.9A204.7 204.7 0 0 1 37.8 201.2M44.1 199.9L45.1 204.3M37.8 201.2L39.8 212.1M51.3 193.5A200.2 200.2 0 0 1 40 196.2M51.3 193.5L53.6 202.2M40 196.2L40.9 200.6M58.1 186.9A195.7 195.7 0 0 1 44.7 190.5M58.1 186.9L62.1 199.8M44.7 190.5L45.7 194.9M64.4 180A191.2 191.2 0 0 1 50.2 184.5M64.4 180L70.4 197M50.2 184.5L51.4 188.8M68.4 173.7A186.7 186.7 0 0 1 56 178.1M68.4 173.7L79 200.8M56 178.1L57.3 182.4M72.1 167.3A182.2 182.2 0 0 1 60.7 171.8M72.1 167.3L82.7 192.1M60.7 171.8L62.2 176M75.4 160.9A177.7 177.7 0 0 1 64.8 165.5M75.4 160.9L91.6 195.4M64.8 165.5L66.4 169.7M89.4 148.4A173.2 173.2 0 0 1 68.4 159.1M89.4 148.4L101 167.6M68.4 159.1L70.1 163.3M112.2 126A168.7 168.7 0 0 1 77 150.1M112.2 126L127.2 142.8M77 150.1L79 154.1M29.9 207A209.1 209.1 0 0 1 25.5 207.5M29.9 207L30.8 213.6M25.5 207.5L26.3 214.2M21.1 208A209.1 209.1 0 0 1 16.8 208.4M21.1 208L21.8 214.7M16.8 208.4L17.3 215.1M12.4 208.7A209.1 209.1 0 0 1 8 208.9M12.4 208.7L12.8 215.4M8 208.9L8.2 215.6M3.6 209.1A209.1 209.1 0 0 1 -0.8 209.1M3.6 209.1L3.7 215.8M-0.8 209.1L-0.9 215.8M-9.6 208.9A209.1 209.1 0 0 1 -14 208.6M-9.6 208.9L-9.9 215.6M-14 208.6L-14.5 215.3M-5.1 204.4A204.5 204.5 0 0 1 -11.6 204.2M-5.1 204.4L-5.4 215.7M-11.6 204.2L-11.8 208.8M1.3 199.9A199.9 199.9 0 0 1 -8.2 199.7M1.3 199.9L1.4 209.1M-8.2 199.7L-8.4 204.3M9.5 195.1A195.3 195.3 0 0 1 -3.4 195.3M9.5 195.1L10.2 208.9M-3.4 195.3L-3.4 199.9M17.3 189.9A190.7 190.7 0 0 1 3 190.7M17.3 189.9L18.9 208.2M3 190.7L3.1 195.3M24.7 184.5A186.1 186.1 0 0 1 9.9 185.8M24.7 184.5L27.7 207.3M9.9 185.8L10.1 190.4M-22.8 207.9A209.1 209.1 0 0 1 -27.2 207.3M-22.8 207.9L-23.5 214.5M-27.2 207.3L-28 214M-35.9 206A209.1 209.1 0 0 1 -40.2 205.2M-35.9 206L-37 212.6M-40.2 205.2L-41.5 211.8M-48.8 203.3A209.1 209.1 0 0 1 -53.1 202.2M-48.8 203.3L-50.4 209.8M-53.1 202.2L-54.8 208.7M-61.6 199.8A209.1 209.1 0 0 1 -65.7 198.5M-61.6 199.8L-63.5 206.2M-65.7 198.5L-67.9 204.9M-56.1 196.7A204.5 204.5 0 0 1 -62.3 194.8M-56.1 196.7L-59.2 207.5M-62.3 194.8L-63.7 199.2M-48.7 193.9A199.9 199.9 0 0 1 -57.8 191.4M-48.7 193.9L-51 202.8M-57.8 191.4L-59.2 195.8M-41.6 190.8A195.3 195.3 0 0 1 -52.1 188.2M-41.6 190.8L-45.9 210.9M-52.1 188.2L-53.3 192.7M-34.7 187.5A190.7 190.7 0 0 1 -45.7 185.1M-34.7 187.5L-38 205.6M-45.7 185.1L-46.8 189.6M-28.1 184A186.1 186.1 0 0 1 -39.3 181.9M-28.1 184L-32.5 213.3M-39.3 181.9L-40.2 186.4M-21.7 180.2A181.5 181.5 0 0 1 -32.8 178.5M-21.7 180.2L-25 207.6M-32.8 178.5L-33.7 183M-15.6 176.2A176.9 176.9 0 0 1 -26.6 174.9M-15.6 176.2L-19 215M-26.6 174.9L-27.3 179.4M16 171.6A172.3 172.3 0 0 1 -20.6 171.1M16 171.6L17.3 185.3M-20.6 171.1L-21.1 175.6M-69.8 196.7A208.7 208.7 0 0 1 -73.9 195.2M-69.8 196.7L-72.1 203.4M-73.9 195.2L-76.4 201.8M-78 193.6A208.7 208.7 0 0 1 -82.1 191.9M-78 193.6L-80.6 200.2M-82.1 191.9L-84.8 198.4M-86.1 190.1A208.7 208.7 0 0 1 -90.1 188.3M-86.1 190.1L-89 196.6M-90.1 188.3L-93.1 194.7M-94 186.3A208.7 208.7 0 0 1 -97.9 184.3M-94 186.3L-97.2 192.7M-97.9 184.3L-101.2 190.6M-86 184.7A203.7 203.7 0 0 1 -93.7 180.9M-86 184.7L-88.1 189.2M-93.7 180.9L-96 185.3M-76.2 183.5A198.7 198.7 0 0 1 -87.6 178.3M-76.2 183.5L-80 192.7M-87.6 178.3L-89.8 182.8M-66.7 181.9A193.7 193.7 0 0 1 -79.9 176.5M-66.7 181.9L-71.8 195.9M-79.9 176.5L-82 181M-113.1 175.4A208.7 208.7 0 0 1 -116.7 173M-113.1 175.4L-116.9 181.4M-116.7 173L-120.7 178.9M-123.9 167.9A208.7 208.7 0 0 1 -127.4 165.3M-123.9 167.9L-128.1 173.6M-127.4 165.3L-131.8 170.9M-130.9 162.6A208.7 208.7 0 0 1 -134.3 159.8M-130.9 162.6L-135.3 168.1M-134.3 159.8L-138.8 165.2M-140.9 154A208.7 208.7 0 0 1 -144.1 151M-140.9 154L-145.7 159.2M-144.1 151L-149 156.1M-134.3 153.2A203.7 203.7 0 0 1 -139.1 148.8M-134.3 153.2L-142.3 162.3M-139.1 148.8L-142.5 152.5M-147.2 147.9A208.7 208.7 0 0 1 -150.3 144.8M-147.2 147.9L-152.2 152.9M-150.3 144.8L-155.4 149.7M-153.3 141.6A208.7 208.7 0 0 1 -156.3 138.3M-153.3 141.6L-158.5 146.4M-156.3 138.3L-161.6 143M-159.2 135A208.7 208.7 0 0 1 -162 131.6M-159.2 135L-164.6 139.6M-162 131.6L-167.5 136.1M-151.1 136.6A203.7 203.7 0 0 1 -156.7 130.1M-151.1 136.6L-154.8 140M-156.7 130.1L-160.6 133.3M-141.7 139.3A198.7 198.7 0 0 1 -150.2 130.1M-141.7 139.3L-148.8 146.4M-150.2 130.1L-153.9 133.4M-130 143.6A193.7 193.7 0 0 1 -142.3 131.4M-130 143.6L-136.7 151M-142.3 131.4L-146 134.8M-119.9 145.7A188.7 188.7 0 0 1 -132.8 134.1M-119.9 145.7L-132.6 161.2M-132.8 134.1L-136.3 137.6M-110.6 146.7A183.7 183.7 0 0 1 -123.1 136.4M-110.6 146.7L-125.7 166.6M-123.1 136.4L-126.5 140.1M-103 146A178.7 178.7 0 0 1 -113.8 137.8M-103 146L-124.4 176.3M-113.8 137.8L-117 141.6M-95.6 145A173.7 173.7 0 0 1 -105.5 138M-95.6 145L-114.9 174.2M-105.5 138L-108.5 142M-88.4 143.7A168.7 168.7 0 0 1 -97.7 137.5M-88.4 143.7L-113.1 183.8M-97.7 137.5L-100.6 141.6M-82.8 141.2A163.7 163.7 0 0 1 -90.3 136.5M-82.8 141.2L-109.2 186.1M-90.3 136.5L-93.1 140.7M-77.4 138.6A158.7 158.7 0 0 1 -84 134.7M-77.4 138.6L-105.2 188.4M-84 134.7L-86.6 138.9M-58.2 142.3A153.7 153.7 0 0 1 -78.2 132.3M-58.2 142.3L-73.3 179.3M-78.2 132.3L-80.7 136.7M-164.7 128.2A208.7 208.7 0 0 1 -167.4 124.7M-164.7 128.2L-170.3 132.5M-167.4 124.7L-173 128.9M-169.9 121.1A208.7 208.7 0 0 1 -172.5 117.5M-169.9 121.1L-175.7 125.3M-172.5 117.5L-178.3 121.5M-162.1 123.4A203.7 203.7 0 0 1 -167.1 116.5M-162.1 123.4L-166 126.4M-167.1 116.5L-171.2 119.3M-174.9 113.9A208.7 208.7 0 0 1 -177.3 110.2M-174.9 113.9L-180.8 117.8M-177.3 110.2L-183.3 113.9M-171.9 109.3A203.7 203.7 0 0 1 -175.2 103.9M-171.9 109.3L-176.1 112M-175.2 103.9L-185.6 110M-160.6 117A198.7 198.7 0 0 1 -169.3 104M-160.6 117L-164.6 120M-169.3 104L-173.6 106.6M-194.8 74.8A208.7 208.7 0 0 1 -196.4 70.7M-194.8 74.8L-201.5 77.4M-196.4 70.7L-203 73.1M-188.6 77A203.7 203.7 0 0 1 -190.9 71M-188.6 77L-199.8 81.6M-190.9 71L-195.6 72.8M-202.7 49.7A208.7 208.7 0 0 1 -203.7 45.4M-202.7 49.7L-209.6 51.4M-203.7 45.4L-210.6 46.9M-196.8 52.6A203.7 203.7 0 0 1 -198.3 46.4M-196.8 52.6L-208.5 55.8M-198.3 46.4L-203.2 47.5M-190.8 55.4A198.7 198.7 0 0 1 -192.7 48.3M-190.8 55.4L-207.3 60.1M-192.7 48.3L-197.6 49.5M-184.9 57.9A193.7 193.7 0 0 1 -187 50.5M-184.9 57.9L-205.9 64.5M-187 50.5L-191.8 51.8M-206.2 32.4A208.7 208.7 0 0 1 -206.8 28.1M-206.2 32.4L-213.2 33.5M-206.8 28.1L-213.8 29M-207.3 23.7A208.7 208.7 0 0 1 -207.8 19.4M-207.3 23.7L-214.4 24.5M-207.8 19.4L-214.9 20M-208.7 1.8A208.7 208.7 0 0 1 -208.7 -2.6M-208.7 1.8L-215.8 1.9M-208.7 -2.6L-215.8 -2.7M-203.6 6.1A203.7 203.7 0 0 1 -203.7 -0.4M-203.6 6.1L-215.7 6.4M-203.7 -0.4L-208.7 -0.4M-198.4 10.1A198.7 198.7 0 0 1 -198.7 2.8M-198.4 10.1L-215.5 11M-198.7 2.8L-203.7 2.8M-193.2 13.9A193.7 193.7 0 0 1 -193.6 6.3M-193.2 13.9L-215.2 15.5M-193.6 6.3L-198.6 6.4M-187.7 19.5A188.7 188.7 0 0 1 -188.4 9.8M-187.7 19.5L-207.6 21.5M-188.4 9.8L-193.4 10.1M-181.8 26.6A183.7 183.7 0 0 1 -183.1 14.3M-181.8 26.6L-206.5 30.3M-183.1 14.3L-188.1 14.7M-175.9 31.5A178.7 178.7 0 0 1 -177.6 19.9M-175.9 31.5L-212.4 38M-177.6 19.9L-182.6 20.5M-209.4 -7A209.5 209.5 0 0 1 -209.2 -11.4M-209.4 -7L-215.7 -7.2M-209.2 -11.4L-215.5 -11.8M-208.9 -15.8A209.5 209.5 0 0 1 -208.5 -20.2M-208.9 -15.8L-215.2 -16.3M-208.5 -20.2L-214.8 -20.8M-206.1 -37.7A209.5 209.5 0 0 1 -205.2 -42M-206.1 -37.7L-212.3 -38.8M-205.2 -42L-211.4 -43.3M-203.3 -50.6A209.5 209.5 0 0 1 -202.2 -54.9M-203.3 -50.6L-209.4 -52.1M-202.2 -54.9L-208.3 -56.5M-199.7 -63.3A209.5 209.5 0 0 1 -198.3 -67.5M-199.7 -63.3L-205.7 -65.3M-198.3 -67.5L-204.3 -69.6M-196.9 -57.9A205.2 205.2 0 0 1 -195 -64.1M-196.9 -57.9L-207 -60.9M-195 -64.1L-199 -65.4M-194.5 -50.6A201 201 0 0 1 -191.9 -59.8M-194.5 -50.6L-202.7 -52.7M-191.9 -59.8L-196 -61M-191.9 -43.5A196.8 196.8 0 0 1 -189.2 -54M-191.9 -43.5L-210.5 -47.7M-189.2 -54L-193.3 -55.2M-189 -36.6A192.5 192.5 0 0 1 -186.5 -47.7M-189 -36.6L-205.6 -39.8M-186.5 -47.7L-190.6 -48.8M-185.9 -30A188.3 188.3 0 0 1 -183.7 -41.3M-185.9 -30L-213.1 -34.3M-183.7 -41.3L-187.9 -42.2M-182.3 -25.5A184.1 184.1 0 0 1 -180.8 -34.8M-182.3 -25.5L-213.7 -29.8M-180.8 -34.8L-184.9 -35.6M-178.6 -21.1A179.9 179.9 0 0 1 -177.4 -29.5M-178.6 -21.1L-214.3 -25.3M-177.4 -29.5L-181.6 -30.2M-175 -15.1A175.6 175.6 0 0 1 -173.9 -24.7M-175 -15.1L-208.7 -18M-173.9 -24.7L-178.1 -25.3M-171.2 -7.5A171.4 171.4 0 0 1 -170.3 -19.4M-171.2 -7.5L-209.3 -9.2M-170.3 -19.4L-174.5 -19.9M-166.9 24.3A168.7 168.7 0 0 1 -168.2 -13.3M-166.9 24.3L-176.8 25.7M-168.2 -13.3L-170.9 -13.5M-162.2 32.6A165.4 165.4 0 0 1 -165.3 5.4M-162.2 32.6L-211.6 42.5M-165.3 5.4L-168.6 5.5M-154.8 45.1A161.2 161.2 0 0 1 -160.1 18.6M-154.8 45.1L-186 54.2M-160.1 18.6L-164.3 19.1M-150.6 50.7A158.9 158.9 0 0 1 -155.7 31.5M-150.6 50.7L-204.5 68.8M-155.7 31.5L-158 32M-144.2 56.2A154.8 154.8 0 0 1 -149.5 40.1M-144.2 56.2L-189.8 74M-149.5 40.1L-153.5 41.2M-138.7 60.1A151.1 151.1 0 0 1 -143.6 47.1M-138.7 60.1L-198 85.8M-143.6 47.1L-147.1 48.2M-133.8 61.3A147.2 147.2 0 0 1 -137.6 52.2M-133.8 61.3L-196.2 89.9M-137.6 52.2L-141.3 53.6M-128.7 62.3A143 143 0 0 1 -131.9 55.2M-128.7 62.3L-194.2 94M-131.9 55.2L-135.8 56.8M-124.4 63.5A139.7 139.7 0 0 1 -127.4 57.4M-124.4 63.5L-192.2 98.1M-127.4 57.4L-130.4 58.8M-121.3 65.2A137.7 137.7 0 0 1 -124.1 59.6M-121.3 65.2L-190.1 102.1M-124.1 59.6L-125.9 60.5M-118.6 67A136.2 136.2 0 0 1 -121.4 61.7M-118.6 67L-187.9 106.1M-121.4 61.7L-122.7 62.4M-112 75A134.8 134.8 0 0 1 -118.8 63.7M-112 75L-165.1 110.6M-118.8 63.7L-120 64.4M-59.4 119.6A133.5 133.5 0 0 1 -114.4 68.8M-59.4 119.6L-68.4 137.7M-114.4 68.8L-115.5 69.4M-1.7 129.4A129.4 129.4 0 0 1 -87.7 95.1M-1.7 129.4L-2.3 172.3M-87.7 95.1L-90.5 98.1M20.2 121.8A123.5 123.5 0 0 1 -45.7 114.7M20.2 121.8L35.3 212.9M-45.7 114.7L-47.9 120.2M67 97.7A118.5 118.5 0 0 1 -12.7 117.8M67 97.7L95.4 139.2M-12.7 117.8L-13.2 122.8M79.8 81.4A114 114 0 0 1 27.8 110.5M79.8 81.4L151 154.2M27.8 110.5L28.9 114.9M94.2 55.9A109.5 109.5 0 0 1 53.5 95.5M94.2 55.9L149.4 88.6M53.5 95.5L55.7 99.4M96.9 40.3A105 105 0 0 1 73.3 75.2M96.9 40.3L178.8 74.4M73.3 75.2L76.5 78.4M97.9 24.8A101 101 0 0 1 83.6 56.7M97.9 24.8L181.6 46M83.6 56.7L86.9 58.9M97.2 1.3A97.2 97.2 0 0 1 88.7 39.8M97.2 1.3L178.7 2.4M88.7 39.8L92.1 41.4M84.1 -37.2A92 92 0 0 1 89.8 19.9M84.1 -37.2L153.2 -67.8M89.8 19.9L94.9 21M69.4 -50.5A85.8 85.8 0 0 1 85.4 -8.5M69.4 -50.5L160.5 -116.9M85.4 -8.5L91.5 -9.1M56.4 -58A80.9 80.9 0 0 1 75.6 -28.8M56.4 -58L130.5 -134.3M75.6 -28.8L80.2 -30.6M48.5 -59.7A76.9 76.9 0 0 1 64.2 -42.3M48.5 -59.7L136 -167.5M64.2 -42.3L67.6 -44.5M30.8 -63.5A70.6 70.6 0 0 1 52.4 -47.4M30.8 -63.5L75.8 -156.3M52.4 -47.4L57 -51.6M14.7 -63.5A65.2 65.2 0 0 1 39.1 -52.2M14.7 -63.5L42.7 -183.8M39.1 -52.2L42.4 -56.5M7.4 -59.5A60 60 0 0 1 25.3 -54.4M7.4 -59.5L25.8 -207.1M25.3 -54.4L27.5 -59.1M5.1 -54.8A55 55 0 0 1 15.2 -52.9M5.1 -54.8L19.9 -214.9M15.2 -52.9L16.6 -57.7M3.6 -49.9A50 50 0 0 1 9.3 -49.1M3.6 -49.9L15.4 -215.2M9.3 -49.1L10.2 -54M2.3 -44.9A45 45 0 0 1 5.8 -44.6M2.3 -44.9L10.9 -215.5M5.8 -44.6L6.4 -49.6M1.2 -40A40 40 0 0 1 3.6 -39.8M1.2 -40L6.3 -215.7M3.6 -39.8L4 -44.8M-4.4 -34.7A35 35 0 0 1 2.1 -34.9M-4.4 -34.7L-24 -187.2M2.1 -34.9L2.4 -39.9M-9.6 -28.4A30 30 0 0 1 -1 -30M-9.6 -28.4L-62 -183.5M-1 -30L-1.2 -35M-12.5 -21.6A25 25 0 0 1 -4.5 -24.6M-12.5 -21.6L-89.5 -154.6M-4.5 -24.6L-5.4 -29.5M-13.3 -14.9A20 20 0 0 1 -6.9 -18.8M-13.3 -14.9L-122.6 -137.6M-6.9 -18.8L-8.6 -23.5M-10.7 -10.5A15 15 0 0 1 -7.7 -12.9M-10.7 -10.5L-145.7 -142.3M-7.7 -12.9L-10.3 -17.2M-7.7 -6.3A10 10 0 0 1 -6.2 -7.8M-7.7 -6.3L-154 -125.6M-6.2 -7.8L-9.3 -11.8M-4.2 -2.7A5 5 0 0 1 -3.5 -3.6M-4.2 -2.7L-167.7 -106.5M-3.5 -3.6L-7 -7.1M0 0L-186.6 -108.4M0 0L-3.9 -3.1" stroke="#1a1a1a" stroke-width="0.5" fill="none"/>
<g font-size="3.8" fill="#000" stroke="#000" stroke-width="0.06" dominant-baseline="central"><text transform="translate(-187 -108.7) rotate(30.2)" text-anchor="end">HC04</text><text transform="translate(-184.7 -112.6) rotate(31.4)" text-anchor="end">HC03</text><text transform="translate(-182.3 -116.4) rotate(32.6)" text-anchor="end">HC24</text><text transform="translate(-179.8 -120.2) rotate(33.8)" text-anchor="end">HC20</text><text transform="translate(-177.2 -124) rotate(35)" text-anchor="end">HC06</text><text transform="translate(-174.6 -127.7) rotate(36.2)" text-anchor="end">HC21</text><text transform="translate(-171.9 -131.4) rotate(37.4)" text-anchor="end">HE49</text><text transform="translate(-169 -134.9) rotate(38.6)" text-anchor="end">HE79</text><text transform="translate(-166.2 -138.5) rotate(39.8)" text-anchor="end">HC08</text><text transform="translate(-163.2 -141.9) rotate(41)" text-anchor="end">HE80</text><text transform="translate(-160.2 -145.3) rotate(42.2)" text-anchor="end">HE70</text><text transform="translate(-157.1 -148.7) rotate(43.4)" text-anchor="end">HA52</text><text transform="translate(-153.9 -152) rotate(44.6)" text-anchor="end">HE51</text><text transform="translate(-150.7 -155.2) rotate(45.8)" text-anchor="end">HC80</text><text transform="translate(-147.4 -158.3) rotate(47)" text-anchor="end">HE81</text><text transform="translate(-144 -161.4) rotate(48.2)" text-anchor="end">HE75</text><text transform="translate(-140.6 -164.4) rotate(49.5)" text-anchor="end">HE12</text><text transform="translate(-137.1 -167.3) rotate(50.7)" text-anchor="end">HD73</text><text transform="translate(-133.6 -170.1) rotate(51.9)" text-anchor="end">HD20</text><text transform="translate(-129.9 -172.9) rotate(53.1)" text-anchor="end">HC84</text><text transform="translate(-126.3 -175.6) rotate(54.3)" text-anchor="end">HC10</text><text transform="translate(-122.6 -178.2) rotate(55.5)" text-anchor="end">HB69</text><text transform="translate(-118.8 -180.8) rotate(56.7)" text-anchor="end">HC47</text><text transform="translate(-114.9 -183.2) rotate(57.9)" text-anchor="end">HD509</text><text transform="translate(-111.1 -185.6) rotate(59.1)" text-anchor="end">HE08</text><text transform="translate(-107.1 -187.9) rotate(60.3)" text-anchor="end">HE28</text><text transform="translate(-103.1 -190.1) rotate(61.5)" text-anchor="end">HC12</text><text transform="translate(-99.1 -192.3) rotate(62.7)" text-anchor="end">HC54</text><text transform="translate(-95 -194.3) rotate(63.9)" text-anchor="end">HC31</text><text transform="translate(-90.9 -196.3) rotate(65.1)" text-anchor="end">HC71</text><text transform="translate(-86.8 -198.1) rotate(66.3)" text-anchor="end">HC08</text><text transform="translate(-82.6 -199.9) rotate(67.6)" text-anchor="end">HB73</text><text transform="translate(-78.4 -201.6) rotate(68.8)" text-anchor="end">HC29</text><text transform="translate(-74.1 -203.2) rotate(70)" text-anchor="end">HA81</text><text transform="translate(-69.8 -204.7) rotate(71.2)" text-anchor="end">HE08</text><text transform="translate(-65.5 -206.1) rotate(72.4)" text-anchor="end">HE75</text><text transform="translate(-61.1 -207.5) rotate(73.6)" text-anchor="end">HC07</text><text transform="translate(-56.7 -208.7) rotate(74.8)" text-anchor="end">HE06</text><text transform="translate(-52.3 -209.9) rotate(76)" text-anchor="end">HE18</text><text transform="translate(-47.9 -210.9) rotate(77.2)" text-anchor="end">HD54</text><text transform="translate(-43.5 -211.9) rotate(78.4)" text-anchor="end">HE70</text><text transform="translate(-39 -212.8) rotate(79.6)" text-anchor="end">HC74</text><text transform="translate(-34.5 -213.5) rotate(80.8)" text-anchor="end">HD72</text><text transform="translate(-30 -214.2) rotate(82)" text-anchor="end">HB88</text><text transform="translate(-25.5 -214.8) rotate(83.2)" text-anchor="end">HE14</text><text transform="translate(-21 -215.3) rotate(84.4)" text-anchor="end">HE74</text><text transform="translate(-16.4 -215.7) rotate(85.6)" text-anchor="end">HA25</text><text transform="translate(-11.9 -216) rotate(86.9)" text-anchor="end">HD13</text><text transform="translate(-7.3 -216.2) rotate(88.1)" text-anchor="end">HE92</text><text transform="translate(-2.8 -216.3) rotate(89.3)" text-anchor="end">HC73</text><text transform="translate(1.8 -216.3) rotate(270.5)">HC80</text><text transform="translate(6.3 -216.2) rotate(271.7)">HE64</text><text transform="translate(10.9 -216) rotate(272.9)">HA69</text><text transform="translate(15.4 -215.7) rotate(274.1)">HC41</text><text transform="translate(20 -215.4) rotate(275.3)">HC75</text><text transform="translate(24.5 -214.9) rotate(276.5)">HC47</text><text transform="translate(29 -214.3) rotate(277.7)">HD32</text><text transform="translate(33.5 -213.7) rotate(278.9)">HB24</text><text transform="translate(38 -212.9) rotate(280.1)">HA32</text><text transform="translate(42.5 -212.1) rotate(281.3)">HC74</text><text transform="translate(47 -211.1) rotate(282.5)">HD68</text><text transform="translate(51.4 -210.1) rotate(283.7)">HC44</text><text transform="translate(55.8 -209) rotate(285)">HA58</text><text transform="translate(60.2 -207.8) rotate(286.2)">HD78</text><text transform="translate(64.6 -206.4) rotate(287.4)">HC16</text><text transform="translate(68.9 -205) rotate(288.6)">HE54</text><text transform="translate(73.2 -203.5) rotate(289.8)">HE97</text><text transform="translate(77.5 -202) rotate(291)">HD20</text><text transform="translate(81.7 -200.3) rotate(292.2)">HC54</text><text transform="translate(85.9 -198.5) rotate(293.4)">HC86</text><text transform="translate(90 -196.7) rotate(294.6)">HC98</text><text transform="translate(94.2 -194.7) rotate(295.8)">HE74</text><text transform="translate(98.2 -192.7) rotate(297)">HB41</text><text transform="translate(102.3 -190.6) rotate(298.2)">HD89</text><text transform="translate(106.3 -188.4) rotate(299.4)">HD77</text><text transform="translate(110.2 -186.1) rotate(300.6)">HC75</text><text transform="translate(114.1 -183.8) rotate(301.8)">HB59</text><text transform="translate(118 -181.3) rotate(303)">HC12</text><text transform="translate(121.7 -178.8) rotate(304.3)">HD61</text><text transform="translate(125.5 -176.2) rotate(305.5)">HA86</text><text transform="translate(129.2 -173.5) rotate(306.7)">HC08</text><text transform="translate(132.8 -170.7) rotate(307.9)">HA90</text><text transform="translate(136.4 -167.9) rotate(309.1)">HD83</text><text transform="translate(139.9 -165) rotate(310.3)">HE88</text><text transform="translate(143.3 -162) rotate(311.5)">HB58</text><text transform="translate(146.7 -159) rotate(312.7)">HD92</text><text transform="translate(150 -155.8) rotate(313.9)">HC86</text><text transform="translate(153.2 -152.7) rotate(315.1)">HD03</text><text transform="translate(156.4 -149.4) rotate(316.3)">HC46</text><text transform="translate(159.5 -146.1) rotate(317.5)">HE79</text><text transform="translate(162.6 -142.7) rotate(318.7)">HC64</text><text transform="translate(165.5 -139.2) rotate(319.9)">HC28</text><text transform="translate(168.4 -135.7) rotate(321.1)">HB37</text><text transform="translate(171.3 -132.1) rotate(322.3)">HE95</text><text transform="translate(174 -128.5) rotate(323.6)">HA33</text><text transform="translate(176.7 -124.8) rotate(324.8)">HB27</text><text transform="translate(179.3 -121.1) rotate(326)">HA04</text><text transform="translate(181.8 -117.2) rotate(327.2)">HA32</text><text transform="translate(184.2 -113.4) rotate(328.4)">HD98</text><text transform="translate(186.5 -109.5) rotate(329.6)">HD57</text><text transform="translate(188.8 -105.5) rotate(330.8)">HD01</text><text transform="translate(191 -101.5) rotate(332)">HD11</text><text transform="translate(193.1 -97.5) rotate(333.2)">HA57</text><text transform="translate(195.1 -93.4) rotate(334.4)">HB63</text><text transform="translate(197 -89.3) rotate(335.6)">HC78</text><text transform="translate(198.8 -85.1) rotate(336.8)">HC26</text><text transform="translate(200.6 -80.9) rotate(338)">HE11</text><text transform="translate(202.3 -76.7) rotate(339.2)">HC33</text><text transform="translate(203.8 -72.4) rotate(340.4)">HE67</text><text transform="translate(205.3 -68.1) rotate(341.7)">HD77</text><text transform="translate(206.7 -63.7) rotate(342.9)">HD08</text><text transform="translate(208 -59.4) rotate(344.1)">HD95</text><text transform="translate(209.2 -55) rotate(345.3)">HD55</text><text transform="translate(210.3 -50.6) rotate(346.5)">HD67</text><text transform="translate(211.3 -46.1) rotate(347.7)">HD70</text><text transform="translate(212.2 -41.7) rotate(348.9)">HD0A</text><text transform="translate(213.1 -37.2) rotate(350.1)">HD79</text><text transform="translate(213.8 -32.7) rotate(351.3)">HD64</text><text transform="translate(214.5 -28.2) rotate(352.5)">HD83</text><text transform="translate(215 -23.7) rotate(353.7)">HD8A</text><text transform="translate(215.5 -19.1) rotate(354.9)">HD86</text><text transform="translate(215.8 -14.6) rotate(356.1)">HD10</text><text transform="translate(216.1 -10.1) rotate(357.3)">HE8A</text><text transform="translate(216.2 -5.5) rotate(358.5)">HB58R</text><text transform="translate(216.3 -0.9) rotate(359.7)">HD38</text><text transform="translate(216.3 3.6) rotate(1)">HB15</text><text transform="translate(216.1 8.2) rotate(2.2)">HA24</text><text transform="translate(215.9 12.7) rotate(3.4)">HA27</text><text transform="translate(215.6 17.2) rotate(4.6)">HA28</text><text transform="translate(215.2 21.8) rotate(5.8)">HB20</text><text transform="translate(214.7 26.3) rotate(7)">HA56</text><text transform="translate(214.1 30.8) rotate(8.2)">HD130</text><text transform="translate(213.4 35.3) rotate(9.4)">HA35</text><text transform="translate(212.6 39.8) rotate(10.6)">HA18</text><text transform="translate(211.7 44.3) rotate(11.8)">HA19</text><text transform="translate(210.7 48.7) rotate(13)">HA51</text><text transform="translate(209.7 53.2) rotate(14.2)">HA14</text><text transform="translate(208.5 57.6) rotate(15.4)">HA37</text><text transform="translate(207.2 61.9) rotate(16.6)">HB50</text><text transform="translate(205.9 66.3) rotate(17.8)">HB57R</text><text transform="translate(204.5 70.6) rotate(19.1)">HB25</text><text transform="translate(202.9 74.9) rotate(20.3)">HA34</text><text transform="translate(201.3 79.1) rotate(21.5)">HA38</text><text transform="translate(199.6 83.4) rotate(22.7)">HD89</text><text transform="translate(197.8 87.6) rotate(23.9)">HD58</text><text transform="translate(195.9 91.7) rotate(25.1)">HE68</text><text transform="translate(193.9 95.8) rotate(26.3)">HE15</text><text transform="translate(191.9 99.9) rotate(27.5)">HE52</text><text transform="translate(189.7 103.9) rotate(28.7)">HD78</text><text transform="translate(187.5 107.9) rotate(29.9)">HD80</text><text transform="translate(185.2 111.8) rotate(31.1)">HE44</text><text transform="translate(182.8 115.6) rotate(32.3)">HD44</text><text transform="translate(180.3 119.5) rotate(33.5)">HB51</text><text transform="translate(177.8 123.2) rotate(34.7)">HE64</text><text transform="translate(175.1 127) rotate(35.9)">HA22</text><text transform="translate(172.4 130.6) rotate(37.1)">HE52</text><text transform="translate(169.6 134.2) rotate(38.4)">HB36</text><text transform="translate(166.8 137.8) rotate(39.6)">HB56</text><text transform="translate(163.8 141.2) rotate(40.8)">HB36</text><text transform="translate(160.8 144.7) rotate(42)">HC54</text><text transform="translate(157.7 148) rotate(43.2)">HD88</text><text transform="translate(154.6 151.3) rotate(44.4)">HE30</text><text transform="translate(151.4 154.5) rotate(45.6)">HB11</text><text transform="translate(148.1 157.7) rotate(46.8)">HB20</text><text transform="translate(144.7 160.8) rotate(48)">HB85</text><text transform="translate(141.3 163.8) rotate(49.2)">HB02</text><text transform="translate(137.8 166.7) rotate(50.4)">HE76</text><text transform="translate(134.3 169.6) rotate(51.6)">HB34</text><text transform="translate(130.7 172.4) rotate(52.8)">HD01</text><text transform="translate(127 175.1) rotate(54)">HB54</text><text transform="translate(123.3 177.7) rotate(55.2)">HB48</text><text transform="translate(119.5 180.3) rotate(56.4)">HB73</text><text transform="translate(115.7 182.7) rotate(57.7)">HD17</text><text transform="translate(111.8 185.1) rotate(58.9)">HC66</text><text transform="translate(107.9 187.5) rotate(60.1)">HB84</text><text transform="translate(104 189.7) rotate(61.3)">HC95</text><text transform="translate(99.9 191.8) rotate(62.5)">HA59</text><text transform="translate(95.9 193.9) rotate(63.7)">HC72</text><text transform="translate(91.8 195.9) rotate(64.9)">HE51</text><text transform="translate(87.6 197.8) rotate(66.1)">HE51</text><text transform="translate(83.4 199.6) rotate(67.3)">HA62</text><text transform="translate(79.2 201.3) rotate(68.5)">HC52</text><text transform="translate(75 202.9) rotate(69.7)">HA25</text><text transform="translate(70.7 204.4) rotate(70.9)">HA27</text><text transform="translate(66.4 205.9) rotate(72.1)">HE21</text><text transform="translate(62 207.2) rotate(73.3)">HA44</text><text transform="translate(57.6 208.5) rotate(74.5)">HB07</text><text transform="translate(53.2 209.6) rotate(75.8)">HA01</text><text transform="translate(48.8 210.7) rotate(77)">HB20</text><text transform="translate(44.4 211.7) rotate(78.2)">HB13</text><text transform="translate(39.9 212.6) rotate(79.4)">HD34</text><text transform="translate(35.4 213.4) rotate(80.6)">HA17</text><text transform="translate(30.9 214.1) rotate(81.8)">HK-RA</text><text transform="translate(26.4 214.7) rotate(83)">HA16</text><text transform="translate(21.9 215.2) rotate(84.2)">HB63</text><text transform="translate(17.3 215.6) rotate(85.4)">HB49</text><text transform="translate(12.8 215.9) rotate(86.6)">HB0G07</text><text transform="translate(8.2 216.1) rotate(87.8)">HC01</text><text transform="translate(3.7 216.3) rotate(89)">HD43</text><text transform="translate(-0.9 216.3) rotate(-89.8)" text-anchor="end">HB0GC3</text><text transform="translate(-5.4 216.2) rotate(-88.6)" text-anchor="end">HC07</text><text transform="translate(-10 216.1) rotate(-87.4)" text-anchor="end">HB07</text><text transform="translate(-14.5 215.8) rotate(-86.2)" text-anchor="end">HD34</text><text transform="translate(-19.1 215.5) rotate(-84.9)" text-anchor="end">HD79</text><text transform="translate(-23.6 215) rotate(-83.7)" text-anchor="end">HA10</text><text transform="translate(-28.1 214.5) rotate(-82.5)" text-anchor="end">HB79</text><text transform="translate(-32.6 213.8) rotate(-81.3)" text-anchor="end">HE20</text><text transform="translate(-37.1 213.1) rotate(-80.1)" text-anchor="end">HC33</text><text transform="translate(-41.6 212.3) rotate(-78.9)" text-anchor="end">HD78</text><text transform="translate(-46.1 211.3) rotate(-77.7)" text-anchor="end">HD61</text><text transform="translate(-50.5 210.3) rotate(-76.5)" text-anchor="end">HA15</text><text transform="translate(-54.9 209.2) rotate(-75.3)" text-anchor="end">HE60</text><text transform="translate(-59.3 208) rotate(-74.1)" text-anchor="end">HE62</text><text transform="translate(-63.7 206.7) rotate(-72.9)" text-anchor="end">HD11</text><text transform="translate(-68 205.3) rotate(-71.7)" text-anchor="end">HB14</text><text transform="translate(-72.3 203.9) rotate(-70.5)" text-anchor="end">HC44</text><text transform="translate(-76.6 202.3) rotate(-69.3)" text-anchor="end">HC34</text><text transform="translate(-80.8 200.6) rotate(-68.1)" text-anchor="end">HE89</text><text transform="translate(-85 198.9) rotate(-66.8)" text-anchor="end">HB67</text><text transform="translate(-89.2 197) rotate(-65.6)" text-anchor="end">HA27</text><text transform="translate(-93.3 195.1) rotate(-64.4)" text-anchor="end">HB47</text><text transform="translate(-97.4 193.1) rotate(-63.2)" text-anchor="end">HB89</text><text transform="translate(-101.5 191) rotate(-62)" text-anchor="end">HB04</text><text transform="translate(-105.5 188.8) rotate(-60.8)" text-anchor="end">HB39</text><text transform="translate(-109.4 186.6) rotate(-59.6)" text-anchor="end">HC12</text><text transform="translate(-113.3 184.2) rotate(-58.4)" text-anchor="end">HC34</text><text transform="translate(-117.2 181.8) rotate(-57.2)" text-anchor="end">HB47</text><text transform="translate(-121 179.3) rotate(-56)" text-anchor="end">HB46</text><text transform="translate(-124.7 176.7) rotate(-54.8)" text-anchor="end">HB69</text><text transform="translate(-128.4 174) rotate(-53.6)" text-anchor="end">HB65</text><text transform="translate(-132.1 171.3) rotate(-52.4)" text-anchor="end">HD82</text><text transform="translate(-135.6 168.5) rotate(-51.2)" text-anchor="end">HB79</text><text transform="translate(-139.2 165.6) rotate(-50)" text-anchor="end">HB31</text><text transform="translate(-142.6 162.6) rotate(-48.8)" text-anchor="end">HE95</text><text transform="translate(-146 159.6) rotate(-47.5)" text-anchor="end">HB26</text><text transform="translate(-149.3 156.5) rotate(-46.3)" text-anchor="end">HB64</text><text transform="translate(-152.6 153.3) rotate(-45.1)" text-anchor="end">HD94</text><text transform="translate(-155.8 150.1) rotate(-43.9)" text-anchor="end">HA04</text><text transform="translate(-158.9 146.7) rotate(-42.7)" text-anchor="end">HD61</text><text transform="translate(-162 143.4) rotate(-41.5)" text-anchor="end">HD25</text><text transform="translate(-164.9 139.9) rotate(-40.3)" text-anchor="end">HC78</text><text transform="translate(-167.9 136.4) rotate(-39.1)" text-anchor="end">HD58</text><text transform="translate(-170.7 132.9) rotate(-37.9)" text-anchor="end">HA11</text><text transform="translate(-173.5 129.2) rotate(-36.7)" text-anchor="end">HE70</text><text transform="translate(-176.1 125.6) rotate(-35.5)" text-anchor="end">HA45</text><text transform="translate(-178.7 121.8) rotate(-34.3)" text-anchor="end">HD90</text><text transform="translate(-181.3 118) rotate(-33.1)" text-anchor="end">HB0G06</text><text transform="translate(-183.7 114.2) rotate(-31.9)" text-anchor="end">HD37</text><text transform="translate(-186.1 110.3) rotate(-30.7)" text-anchor="end">HB0G08</text><text transform="translate(-188.4 106.3) rotate(-29.4)" text-anchor="end">HE66</text><text transform="translate(-190.5 102.4) rotate(-28.2)" text-anchor="end">HA46</text><text transform="translate(-192.7 98.3) rotate(-27)" text-anchor="end">HC71</text><text transform="translate(-194.7 94.2) rotate(-25.8)" text-anchor="end">HE08</text><text transform="translate(-196.6 90.1) rotate(-24.6)" text-anchor="end">HE50</text><text transform="translate(-198.5 86) rotate(-23.4)" text-anchor="end">HE61</text><text transform="translate(-200.2 81.8) rotate(-22.2)" text-anchor="end">HE47</text><text transform="translate(-201.9 77.5) rotate(-21)" text-anchor="end">HE12</text><text transform="translate(-203.5 73.3) rotate(-19.8)" text-anchor="end">HE46</text><text transform="translate(-205 69) rotate(-18.6)" text-anchor="end">HB51</text><text transform="translate(-206.4 64.6) rotate(-17.4)" text-anchor="end">HE80</text><text transform="translate(-207.7 60.3) rotate(-16.2)" text-anchor="end">HE91</text><text transform="translate(-209 55.9) rotate(-15)" text-anchor="end">HE81</text><text transform="translate(-210.1 51.5) rotate(-13.8)" text-anchor="end">HE74</text><text transform="translate(-211.1 47) rotate(-12.6)" text-anchor="end">HE85</text><text transform="translate(-212.1 42.6) rotate(-11.4)" text-anchor="end">HE78</text><text transform="translate(-212.9 38.1) rotate(-10.1)" text-anchor="end">HB21</text><text transform="translate(-213.7 33.6) rotate(-8.9)" text-anchor="end">HB52</text><text transform="translate(-214.3 29.1) rotate(-7.7)" text-anchor="end">HB53</text><text transform="translate(-214.9 24.6) rotate(-6.5)" text-anchor="end">HB54</text><text transform="translate(-215.4 20.1) rotate(-5.3)" text-anchor="end">HE48</text><text transform="translate(-215.7 15.5) rotate(-4.1)" text-anchor="end">HE03</text><text transform="translate(-216 11) rotate(-2.9)" text-anchor="end">HC21R</text><text transform="translate(-216.2 6.4) rotate(-1.7)" text-anchor="end">HA48</text><text transform="translate(-216.3 1.9) rotate(-0.5)" text-anchor="end">HB0GG07</text><text transform="translate(-216.3 -2.7) rotate(0.7)" text-anchor="end">HE18</text><text transform="translate(-216.2 -7.2) rotate(1.9)" text-anchor="end">HD61</text><text transform="translate(-216 -11.8) rotate(3.1)" text-anchor="end">HD28</text><text transform="translate(-215.7 -16.3) rotate(4.3)" text-anchor="end">AG47</text><text transform="translate(-215.3 -20.9) rotate(5.5)" text-anchor="end">HD79</text><text transform="translate(-214.8 -25.4) rotate(6.7)" text-anchor="end">HB50</text><text transform="translate(-214.2 -29.9) rotate(7.9)" text-anchor="end">AN20</text><text transform="translate(-213.5 -34.4) rotate(9.2)" text-anchor="end">HB18</text><text transform="translate(-212.8 -38.9) rotate(10.4)" text-anchor="end">HB44</text><text transform="translate(-211.9 -43.4) rotate(11.6)" text-anchor="end">HB42</text><text transform="translate(-210.9 -47.8) rotate(12.8)" text-anchor="end">HB29</text><text transform="translate(-209.9 -52.3) rotate(14)" text-anchor="end">HB06</text><text transform="translate(-208.7 -56.7) rotate(15.2)" text-anchor="end">HE47</text><text transform="translate(-207.5 -61) rotate(16.4)" text-anchor="end">NB6</text><text transform="translate(-206.2 -65.4) rotate(17.6)" text-anchor="end">NC14</text><text transform="translate(-204.8 -69.7) rotate(18.8)" text-anchor="end">NC12</text></g></g>
</svg>
</body></html>
